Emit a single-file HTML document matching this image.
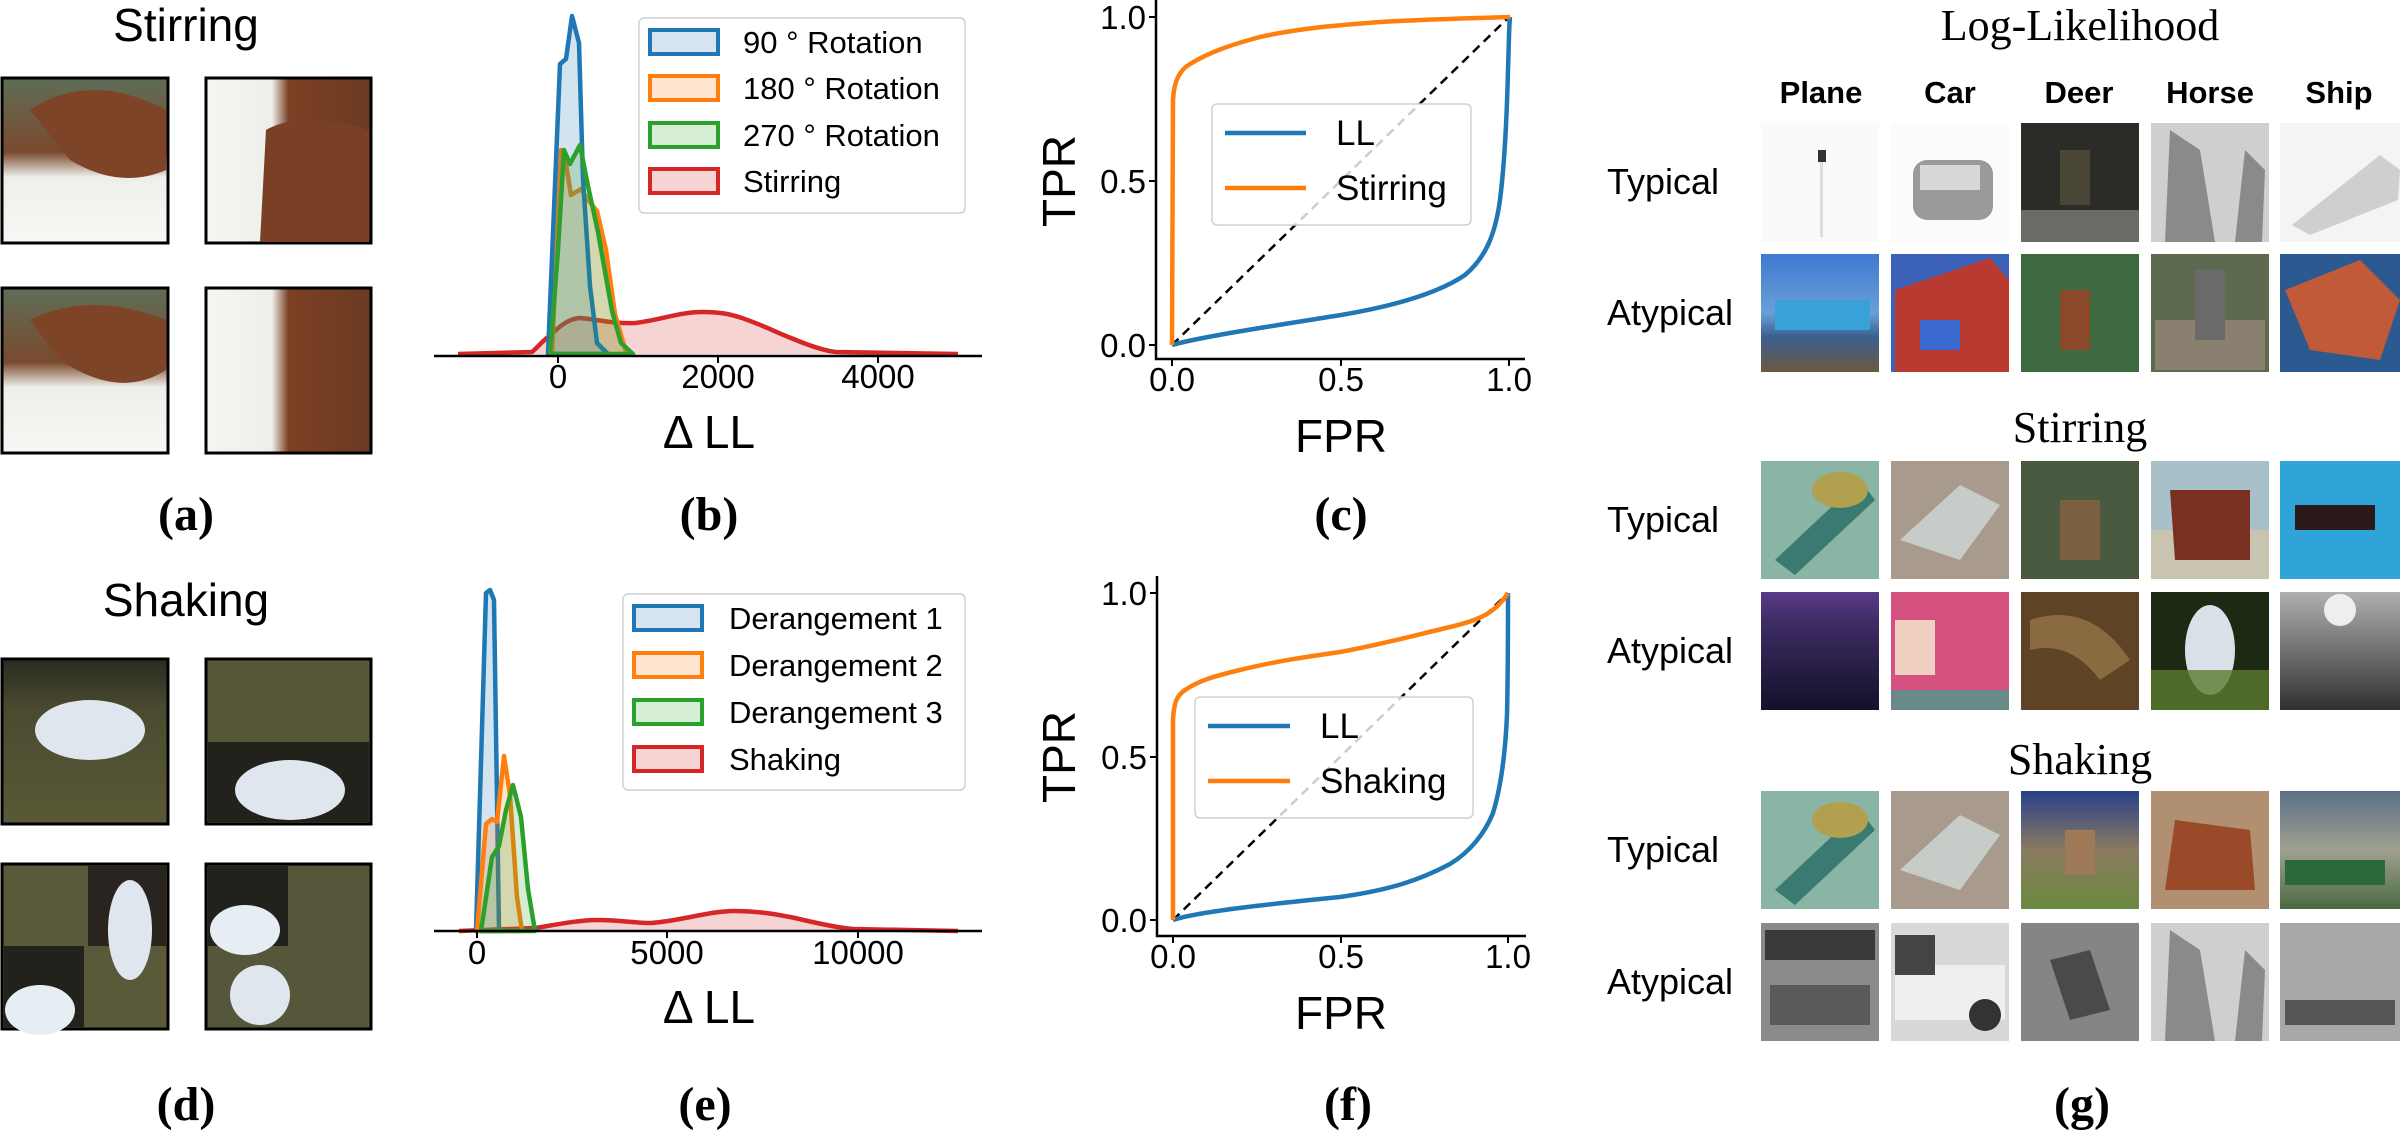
<!DOCTYPE html>
<html><head><meta charset="utf-8"><style>
html,body{margin:0;padding:0;background:#fff}
svg{display:block}
.s{font-family:"Liberation Sans",Arial,sans-serif}
.r{font-family:"Liberation Serif","Times New Roman",serif}
</style></head><body>
<svg width="2400" height="1134" viewBox="0 0 2400 1134" xmlns="http://www.w3.org/2000/svg">
<defs>
<linearGradient id="hT" x1="0" y1="0" x2="0" y2="1"><stop offset="0" stop-color="#5e6e58"/><stop offset="0.45" stop-color="#7a4a2e"/><stop offset="0.6" stop-color="#eeeeea"/><stop offset="1" stop-color="#f7f7f5"/></linearGradient>
<linearGradient id="hR" x1="0" y1="0" x2="1" y2="0"><stop offset="0" stop-color="#f5f5f3"/><stop offset="0.4" stop-color="#eeeeea"/><stop offset="0.5" stop-color="#7c4024"/><stop offset="1" stop-color="#6a3a22"/></linearGradient>
<linearGradient id="gS" x1="0" y1="0" x2="0" y2="1"><stop offset="0" stop-color="#2a2a22"/><stop offset="0.3" stop-color="#4a4a30"/><stop offset="1" stop-color="#5a5a38"/></linearGradient>
<linearGradient id="sky" x1="0" y1="0" x2="0" y2="1"><stop offset="0" stop-color="#3f78d0"/><stop offset="0.5" stop-color="#6aa0d8"/><stop offset="0.7" stop-color="#3a5f90"/><stop offset="1" stop-color="#6a5a40"/></linearGradient>
<linearGradient id="lamp" x1="0" y1="0" x2="0" y2="1"><stop offset="0" stop-color="#b0b0b0"/><stop offset="1" stop-color="#303030"/></linearGradient>
<linearGradient id="dsh" x1="0" y1="0" x2="0" y2="1"><stop offset="0" stop-color="#2a3f8a"/><stop offset="0.5" stop-color="#8a7a60"/><stop offset="1" stop-color="#6a8a40"/></linearGradient>
<linearGradient id="shp" x1="0" y1="0" x2="0" y2="1"><stop offset="0" stop-color="#5a7088"/><stop offset="0.5" stop-color="#a0a090"/><stop offset="1" stop-color="#4a6a40"/></linearGradient>
<linearGradient id="pur" x1="0" y1="0" x2="0" y2="1"><stop offset="0" stop-color="#5a3a8a"/><stop offset="0.3" stop-color="#3a2a60"/><stop offset="1" stop-color="#14102a"/></linearGradient>
</defs>

<!-- (a) -->
<text class="s" x="186" y="41" font-size="46" text-anchor="middle">Stirring</text>
<rect x="2" y="78" width="166" height="165" fill="url(#hT)" stroke="#000" stroke-width="3"/>
<rect x="206" y="78" width="165" height="165" fill="url(#hR)" stroke="#000" stroke-width="3"/>
<rect x="2" y="288" width="166" height="165" fill="url(#hT)" stroke="#000" stroke-width="3"/>
<rect x="206" y="288" width="165" height="165" fill="url(#hR)" stroke="#000" stroke-width="3"/>
<path d="M30 110 Q90 70 166 110 L166 170 Q120 190 70 160 Z" fill="#7e4428"/>
<path d="M30 320 Q90 290 166 320 L166 370 Q120 400 60 360 Z" fill="#7e4428"/>
<path d="M266 130 Q300 110 369 130 L369 242 L260 242 Z" fill="#7a4026"/>
<text class="r" x="186" y="530" font-size="48" font-weight="bold" text-anchor="middle">(a)</text>

<!-- (d) -->
<text class="s" x="186" y="616" font-size="46" text-anchor="middle">Shaking</text>
<rect x="2" y="659" width="166" height="165" fill="url(#gS)" stroke="#000" stroke-width="3"/>
<rect x="206" y="659" width="165" height="165" fill="#565838" stroke="#000" stroke-width="3"/>
<rect x="2" y="864" width="166" height="165" fill="#5a5a3a" stroke="#000" stroke-width="3"/>
<rect x="206" y="864" width="165" height="165" fill="#55563a" stroke="#000" stroke-width="3"/>
<ellipse cx="90" cy="730" rx="55" ry="30" fill="#dfe6ee"/>
<rect x="208" y="742" width="161" height="80" fill="#22221c"/>
<ellipse cx="290" cy="790" rx="55" ry="30" fill="#dfe6ee"/>
<rect x="4" y="946" width="80" height="81" fill="#22221c"/>
<ellipse cx="40" cy="1010" rx="35" ry="25" fill="#e6eef4"/>
<rect x="88" y="866" width="78" height="80" fill="#2a2420"/>
<ellipse cx="130" cy="930" rx="22" ry="50" fill="#dfe6ee"/>
<rect x="208" y="866" width="80" height="80" fill="#22221c"/>
<ellipse cx="245" cy="930" rx="35" ry="25" fill="#e6eef4"/>
<ellipse cx="260" cy="995" rx="30" ry="30" fill="#dfe6ee"/>
<text class="r" x="186" y="1120" font-size="48" font-weight="bold" text-anchor="middle">(d)</text>

<!-- (b) -->
<g stroke-linejoin="round" stroke-width="4.5">
<path d="M458,354 L532,352 C540,345 545,338 550,336 C560,325 570,318 581,318 C600,320 615,324 635,323 C660,320 680,312 702,312 C720,312 730,314 742,318 C765,326 780,334 791,338 C810,346 825,351 836,352 L958,354" fill="rgba(214,39,40,0.2)" stroke="#d62728"/>
<path d="M552,354 L561,150 L566,164 L571,195 L581,189 L588,200 L597,211 L606,250 L615,314 L626,352 L630,354 Z" fill="rgba(255,127,14,0.2)" stroke="#ff7f0e"/>
<path d="M548,354 L560,64 L566,59 L572,16 L579,43 L583,179 L590,286 L597,343 L608,354 Z" fill="rgba(31,119,180,0.2)" stroke="#1f77b4"/>
<path d="M550,354 L558,250 L564,150 L570,164 L580,145 L588,186 L598,232 L612,311 L621,343 L633,354 Z" fill="rgba(44,160,44,0.2)" stroke="#2ca02c"/>
</g>
<line x1="434" y1="356" x2="982" y2="356" stroke="#000" stroke-width="2.5"/>
<g stroke="#000" stroke-width="2"><line x1="558" y1="356" x2="558" y2="363"/><line x1="718" y1="356" x2="718" y2="363"/><line x1="878" y1="356" x2="878" y2="363"/></g>
<g class="s" font-size="33" text-anchor="middle"><text x="558" y="388">0</text><text x="718" y="388">2000</text><text x="878" y="388">4000</text></g>
<text class="s" x="709" y="448" font-size="46" text-anchor="middle">Δ LL</text>
<rect x="639" y="18" width="326" height="195" rx="5" fill="rgba(255,255,255,0.85)" stroke="#d0d0d0" stroke-width="1.5"/>
<g stroke-width="4">
<rect x="650" y="30" width="68" height="24" fill="#d6e4ef" stroke="#1f77b4"/>
<rect x="650" y="76" width="68" height="24" fill="#ffe5cf" stroke="#ff7f0e"/>
<rect x="650" y="123" width="68" height="24" fill="#d5ecd5" stroke="#2ca02c"/>
<rect x="650" y="169" width="68" height="24" fill="#f7d4d4" stroke="#d62728"/>
</g>
<g class="s" font-size="31"><text x="743" y="53">90 °  Rotation</text><text x="743" y="99">180 °  Rotation</text><text x="743" y="146">270 °  Rotation</text><text x="743" y="192">Stirring</text></g>
<text class="r" x="709" y="530" font-size="48" font-weight="bold" text-anchor="middle">(b)</text>

<!-- (e) -->
<g stroke-linejoin="round" stroke-width="4.5">
<path d="M459,931 L535,928 C560,924 580,920 597,920 C620,920 635,923 651,923 C680,921 710,911 734,911 C760,911 780,915 795,918 C820,924 840,928 853,929 L958,931" fill="rgba(214,39,40,0.2)" stroke="#d62728"/>
<path d="M476,931 L486,593 L490,590 L494,600 L499,931 Z" fill="rgba(31,119,180,0.2)" stroke="#1f77b4"/>
<path d="M477,931 L486,824 L492,819 L497,822 L504,756 L510,795 L517,897 L522,931 Z" fill="rgba(255,127,14,0.2)" stroke="#ff7f0e"/>
<path d="M481,931 L492,857 L499,846 L506,810 L513,785 L521,817 L528,889 L535,931 Z" fill="rgba(44,160,44,0.2)" stroke="#2ca02c"/>
</g>
<line x1="434" y1="931" x2="982" y2="931" stroke="#000" stroke-width="2.5"/>
<g stroke="#000" stroke-width="2"><line x1="477" y1="931" x2="477" y2="938"/><line x1="667" y1="931" x2="667" y2="938"/><line x1="858" y1="931" x2="858" y2="938"/></g>
<g class="s" font-size="33" text-anchor="middle"><text x="477" y="964">0</text><text x="667" y="964">5000</text><text x="858" y="964">10000</text></g>
<text class="s" x="709" y="1023" font-size="46" text-anchor="middle">Δ LL</text>
<rect x="623" y="594" width="342" height="196" rx="5" fill="rgba(255,255,255,0.85)" stroke="#d0d0d0" stroke-width="1.5"/>
<g stroke-width="4">
<rect x="634" y="606" width="68" height="24" fill="#d6e4ef" stroke="#1f77b4"/>
<rect x="634" y="653" width="68" height="24" fill="#ffe5cf" stroke="#ff7f0e"/>
<rect x="634" y="700" width="68" height="24" fill="#d5ecd5" stroke="#2ca02c"/>
<rect x="634" y="747" width="68" height="24" fill="#f7d4d4" stroke="#d62728"/>
</g>
<g class="s" font-size="31"><text x="729" y="629">Derangement 1</text><text x="729" y="676">Derangement 2</text><text x="729" y="723">Derangement 3</text><text x="729" y="770">Shaking</text></g>
<text class="r" x="705" y="1120" font-size="48" font-weight="bold" text-anchor="middle">(e)</text>

<!-- (c) -->
<line x1="1172" y1="345" x2="1509" y2="17" stroke="#000" stroke-width="2.5" stroke-dasharray="9,6"/>
<path d="M1172,345 L1510,17 L1510,25 C1509,110 1507,180 1499,243 C1492,271 1485,285 1466,293 C1430,308 1390,316 1341,320 C1300,326 1240,336 1219,336 Z" fill="none"/>
<path d="M1172,345 C1200,337 1260,328 1341,315 C1400,305 1440,292 1465,275 C1485,258 1495,236 1500,200 C1505,160 1507,110 1508,70 C1509,40 1509,25 1510,17" fill="none" stroke="#1f77b4" stroke-width="4.5"/>
<path d="M1172,345 L1173,100 C1174,80 1180,70 1190,64 C1210,52 1230,45 1260,37 C1300,28 1340,25 1380,22 C1430,19 1480,18 1510,17" fill="none" stroke="#ff7f0e" stroke-width="4.5"/>
<path d="M1156,0 L1156,359 L1525,359" fill="none" stroke="#000" stroke-width="2.5"/>
<g stroke="#000" stroke-width="2"><line x1="1149" y1="17" x2="1156" y2="17"/><line x1="1149" y1="181" x2="1156" y2="181"/><line x1="1149" y1="345" x2="1156" y2="345"/><line x1="1172" y1="359" x2="1172" y2="366"/><line x1="1341" y1="359" x2="1341" y2="366"/><line x1="1509" y1="359" x2="1509" y2="366"/></g>
<g class="s" font-size="33" text-anchor="end"><text x="1146" y="29">1.0</text><text x="1146" y="193">0.5</text><text x="1146" y="357">0.0</text></g>
<g class="s" font-size="33" text-anchor="middle"><text x="1172" y="391">0.0</text><text x="1341" y="391">0.5</text><text x="1509" y="391">1.0</text></g>
<text class="s" font-size="46" text-anchor="middle" transform="translate(1075,181) rotate(-90)">TPR</text>
<text class="s" x="1341" y="452" font-size="46" text-anchor="middle">FPR</text>
<rect x="1212" y="104" width="259" height="121" rx="5" fill="rgba(255,255,255,0.8)" stroke="#d0d0d0" stroke-width="1.5"/>
<line x1="1225" y1="133" x2="1306" y2="133" stroke="#1f77b4" stroke-width="4.5"/>
<line x1="1225" y1="188" x2="1306" y2="188" stroke="#ff7f0e" stroke-width="4.5"/>
<g class="s" font-size="35"><text x="1336" y="145">LL</text><text x="1336" y="200">Stirring</text></g>
<text class="r" x="1341" y="530" font-size="48" font-weight="bold" text-anchor="middle">(c)</text>

<!-- (f) -->
<line x1="1173" y1="920" x2="1508" y2="593" stroke="#000" stroke-width="2.5" stroke-dasharray="9,6"/>
<path d="M1173,920 C1200,911 1280,903 1340,897 C1390,890 1420,880 1450,864 C1470,852 1485,833 1493,813 C1500,790 1505,760 1507,715 C1508,670 1508,620 1508,593" fill="none" stroke="#1f77b4" stroke-width="4.5"/>
<path d="M1173,920 L1173,720 C1174,700 1178,695 1185,690 C1200,680 1215,676 1240,670 C1280,660 1320,655 1340,652 C1380,645 1420,634 1450,627 C1480,620 1495,613 1508,593" fill="none" stroke="#ff7f0e" stroke-width="4.5"/>
<path d="M1157,576 L1157,936 L1526,936" fill="none" stroke="#000" stroke-width="2.5"/>
<g stroke="#000" stroke-width="2"><line x1="1150" y1="593" x2="1157" y2="593"/><line x1="1150" y1="757" x2="1157" y2="757"/><line x1="1150" y1="920" x2="1157" y2="920"/><line x1="1173" y1="936" x2="1173" y2="943"/><line x1="1341" y1="936" x2="1341" y2="943"/><line x1="1508" y1="936" x2="1508" y2="943"/></g>
<g class="s" font-size="33" text-anchor="end"><text x="1147" y="605">1.0</text><text x="1147" y="769">0.5</text><text x="1147" y="932">0.0</text></g>
<g class="s" font-size="33" text-anchor="middle"><text x="1173" y="968">0.0</text><text x="1341" y="968">0.5</text><text x="1508" y="968">1.0</text></g>
<text class="s" font-size="46" text-anchor="middle" transform="translate(1075,757) rotate(-90)">TPR</text>
<text class="s" x="1341" y="1029" font-size="46" text-anchor="middle">FPR</text>
<rect x="1195" y="697" width="278" height="121" rx="5" fill="rgba(255,255,255,0.8)" stroke="#d0d0d0" stroke-width="1.5"/>
<line x1="1208" y1="726" x2="1290" y2="726" stroke="#1f77b4" stroke-width="4.5"/>
<line x1="1208" y1="781" x2="1290" y2="781" stroke="#ff7f0e" stroke-width="4.5"/>
<g class="s" font-size="35"><text x="1320" y="738">LL</text><text x="1320" y="793">Shaking</text></g>
<text class="r" x="1348" y="1120" font-size="48" font-weight="bold" text-anchor="middle">(f)</text>

<!-- (g) -->
<text class="r" x="2080" y="40" font-size="44" text-anchor="middle">Log-Likelihood</text>
<g class="s" font-size="31" font-weight="bold" text-anchor="middle">
<text x="1821" y="103">Plane</text><text x="1950" y="103">Car</text><text x="2079" y="103">Deer</text><text x="2210" y="103">Horse</text><text x="2339" y="103">Ship</text></g>
<g class="s" font-size="36">
<text x="1607" y="194">Typical</text><text x="1607" y="325">Atypical</text>
<text x="1607" y="532">Typical</text><text x="1607" y="663">Atypical</text>
<text x="1607" y="862">Typical</text><text x="1607" y="994">Atypical</text></g>
<text class="r" x="2080" y="442" font-size="44" text-anchor="middle">Stirring</text>
<text class="r" x="2080" y="774" font-size="44" text-anchor="middle">Shaking</text>
<text class="r" x="2082" y="1120" font-size="48" font-weight="bold" text-anchor="middle">(g)</text>

<!-- LL typical -->
<rect x="1761" y="123" width="118" height="119" fill="#fafafa"/>
<rect x="1818" y="150" width="8" height="12" fill="#333"/><rect x="1820" y="162" width="3" height="75" fill="#ddd"/>
<rect x="1891" y="123" width="118" height="119" fill="#fbfbfb"/>
<rect x="1913" y="160" width="80" height="60" rx="14" fill="#9a9a9a"/><rect x="1920" y="165" width="60" height="25" fill="#d8d8d8"/>
<rect x="2021" y="123" width="118" height="119" fill="#2b2b27"/><rect x="2021" y="210" width="118" height="32" fill="#6a6a66"/><rect x="2060" y="150" width="30" height="55" fill="#4a4636"/>
<rect x="2151" y="123" width="118" height="119" fill="#cfcfcf"/><path d="M2165,242 L2170,130 L2200,150 L2215,242 Z M2235,242 L2245,150 L2265,170 L2262,242 Z" fill="#8a8a8a"/>
<rect x="2280" y="123" width="120" height="119" fill="#f4f4f4"/><path d="M2292,225 L2380,155 L2400,170 L2398,200 L2310,235 Z" fill="#cfcfcf"/>
<!-- LL atypical -->
<rect x="1761" y="254" width="118" height="118" fill="url(#sky)"/><rect x="1775" y="300" width="95" height="30" fill="#3aa0d8"/>
<rect x="1891" y="254" width="118" height="118" fill="#3b62b8"/><path d="M1895,290 L1990,258 L2009,280 L2009,372 L1895,372 Z" fill="#b83a30"/><rect x="1920" y="320" width="40" height="30" fill="#3a6ad0"/>
<rect x="2021" y="254" width="118" height="118" fill="#3e6a42"/><rect x="2060" y="290" width="30" height="60" fill="#8a4a2a"/>
<rect x="2151" y="254" width="118" height="118" fill="#5e6a50"/><rect x="2155" y="320" width="110" height="50" fill="#8a8070"/><rect x="2195" y="270" width="30" height="70" fill="#6a6a68"/>
<rect x="2280" y="254" width="120" height="118" fill="#2a5a90"/><path d="M2285,290 L2360,260 L2400,300 L2380,360 L2310,350 Z" fill="#c05a38"/>
<!-- Stirring typical -->
<rect x="1761" y="461" width="118" height="118" fill="#8ab4a4"/><path d="M1775,560 L1860,480 L1875,500 L1795,575 Z" fill="#3a7a70"/><ellipse cx="1840" cy="490" rx="28" ry="18" fill="#b0a050"/>
<rect x="1891" y="461" width="118" height="118" fill="#a89a8c"/><path d="M1900,540 L1960,485 L2000,505 L1960,560 Z" fill="#c8ccc8"/>
<rect x="2021" y="461" width="118" height="118" fill="#4a5a40"/><rect x="2060" y="500" width="40" height="60" fill="#7a6040"/>
<rect x="2151" y="461" width="118" height="118" fill="#a8c0c8"/><rect x="2151" y="530" width="118" height="49" fill="#c8c4b0"/><path d="M2170,490 L2250,490 L2250,560 L2175,560 Z" fill="#7a3020"/>
<rect x="2280" y="461" width="120" height="118" fill="#30a4d8"/><rect x="2295" y="505" width="80" height="25" fill="#2a1a1a"/>
<!-- Stirring atypical -->
<rect x="1761" y="592" width="118" height="118" fill="url(#pur)"/>
<rect x="1891" y="592" width="118" height="118" fill="#d4507e"/><rect x="1895" y="620" width="40" height="55" fill="#f0d0c0"/><rect x="1891" y="690" width="118" height="20" fill="#6a8a8a"/>
<rect x="2021" y="592" width="118" height="118" fill="#5e4424"/><path d="M2030,620 Q2090,600 2130,660 L2100,680 Q2070,640 2030,650 Z" fill="#8a6a40"/>
<rect x="2151" y="592" width="118" height="118" fill="#1c2a14"/><ellipse cx="2210" cy="650" rx="25" ry="45" fill="#d8e0e8"/><rect x="2151" y="670" width="118" height="40" fill="#5a7a30" opacity="0.8"/>
<rect x="2280" y="592" width="120" height="118" fill="url(#lamp)"/><circle cx="2340" cy="610" r="16" fill="#eee"/>
<!-- Shaking typical -->
<rect x="1761" y="791" width="118" height="118" fill="#8ab4a4"/><path d="M1775,890 L1860,810 L1875,830 L1795,905 Z" fill="#3a7a70"/><ellipse cx="1840" cy="820" rx="28" ry="18" fill="#b0a050"/>
<rect x="1891" y="791" width="118" height="118" fill="#a89a8c"/><path d="M1900,870 L1960,815 L2000,835 L1960,890 Z" fill="#c8ccc8"/>
<rect x="2021" y="791" width="118" height="118" fill="url(#dsh)"/><rect x="2065" y="830" width="30" height="45" fill="#a07a58"/>
<rect x="2151" y="791" width="118" height="118" fill="#b09070"/><path d="M2165,890 L2175,820 L2250,830 L2255,890 Z" fill="#9a4a28"/>
<rect x="2280" y="791" width="120" height="118" fill="url(#shp)"/><rect x="2285" y="860" width="100" height="25" fill="#2a6a3a"/>
<!-- Shaking atypical -->
<rect x="1761" y="923" width="118" height="118" fill="#8a8a8a"/><rect x="1765" y="930" width="110" height="30" fill="#3a3a3a"/><rect x="1770" y="985" width="100" height="40" fill="#5a5a5a"/>
<rect x="1891" y="923" width="118" height="118" fill="#d8d8d8"/><rect x="1895" y="965" width="110" height="55" fill="#efefef"/><circle cx="1985" cy="1015" r="16" fill="#333"/><rect x="1895" y="935" width="40" height="40" fill="#444"/>
<rect x="2021" y="923" width="118" height="118" fill="#858585"/><path d="M2050,960 L2090,950 L2110,1010 L2070,1020 Z" fill="#4a4a4a"/>
<rect x="2151" y="923" width="118" height="118" fill="#cfcfcf"/><path d="M2165,1041 L2170,930 L2200,950 L2215,1041 Z M2235,1041 L2245,950 L2265,970 L2262,1041 Z" fill="#8a8a8a"/>
<rect x="2280" y="923" width="120" height="118" fill="#a8a8a8"/><rect x="2285" y="1000" width="110" height="25" fill="#555"/>
</svg>
</body></html>
